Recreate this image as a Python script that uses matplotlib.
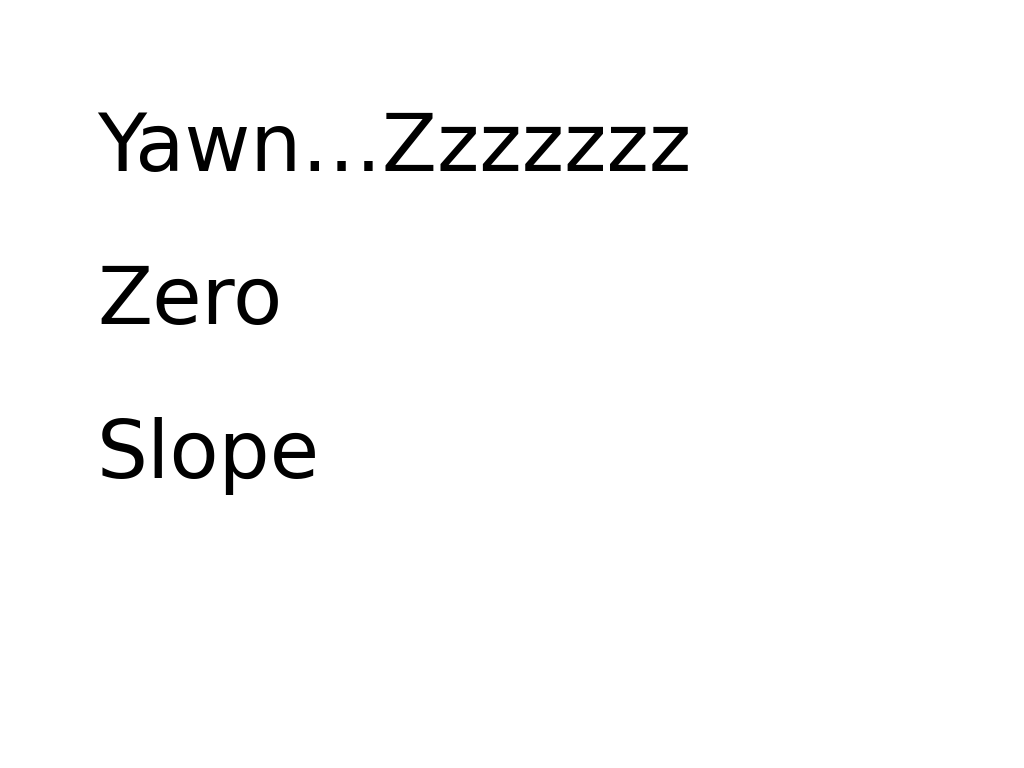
import matplotlib
matplotlib.use("Agg")
import matplotlib.pyplot as plt

LINES = ["Yawn…Zzzzzzz", "Zero", "Slope"]
BASELINES = [171, 324, 478]  # pixel rows from top

fig = plt.figure(figsize=(10.24, 7.68), dpi=100)
fig.patch.set_facecolor("white")

for text, base in zip(LINES, BASELINES):
    fig.text(97 / 1024, 1 - base / 768, text, fontsize=58,
             family=["DejaVu Sans"], color="black", va="baseline", ha="left")

fig.savefig("out.png", dpi=100, facecolor="white")
